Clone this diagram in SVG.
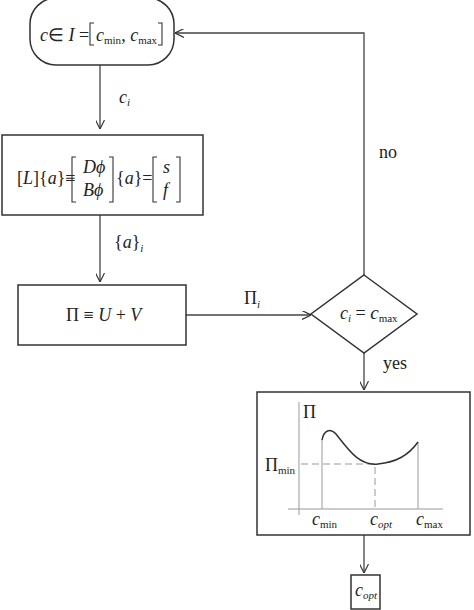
<svg xmlns="http://www.w3.org/2000/svg" width="474" height="610" viewBox="0 0 474 610">
<defs>
<marker id="arr" viewBox="0 0 10 10" refX="10" refY="5" markerWidth="9" markerHeight="9" orient="auto" markerUnits="userSpaceOnUse">
<path d="M0,0 L10,5 L0,10" fill="none" stroke="#333" stroke-width="1.3"/>
</marker>
<style>
.n{fill:#fff;stroke:#333;stroke-width:1.5}
.c{fill:none;stroke:#444;stroke-width:1.3}
.b{fill:none;stroke:#333;stroke-width:1.1}
.t{font-family:"Liberation Serif",serif;font-size:18px;fill:#222}
.i{font-style:italic}
.s{font-size:11px}
.g{fill:none;stroke:#999;stroke-width:1}
.d{fill:none;stroke:#999;stroke-width:1;stroke-dasharray:7,4}
</style>
</defs>
<rect width="474" height="610" fill="#fff"/>
<g id="connectors">
<path class="c" d="M100,65 V129" marker-end="url(#arr)"/>
<path class="c" d="M100,215 V282" marker-end="url(#arr)"/>
<path class="c" d="M186,315 H311" marker-end="url(#arr)"/>
<path class="c" d="M364,275 V33 H175" marker-end="url(#arr)"/>
<path class="c" d="M364,353 V390" marker-end="url(#arr)"/>
<path class="c" d="M364,535 V573" marker-end="url(#arr)"/>
<text class="t i" x="119" y="103">c<tspan class="s" dy="3">i</tspan></text>
<text class="t" x="114" y="248">{<tspan class="i">a</tspan>}<tspan class="s i" dy="4">i</tspan></text>
<text class="t" x="244" y="304">Π<tspan class="s i" dy="4">i</tspan></text>
<text class="t" x="379" y="158">no</text>
<text class="t" x="383" y="369">yes</text>
</g>
<g id="start">
<rect class="n" x="30" y="-2" width="144" height="67" rx="26" ry="26"/>
<text class="t" x="40" y="41"><tspan class="i">c</tspan>∈ <tspan class="i">I</tspan> =</text>
<path class="b" d="M94,23 h-4 v22 h4 M158,23 h4 v22 h-4"/>
<text class="t i" x="96" y="41" font-size="20">c<tspan class="s" font-style="normal" dy="3">min</tspan><tspan font-style="normal" font-size="18" dy="-3">, </tspan>c<tspan class="s" font-style="normal" dy="3">max</tspan></text>
</g>
<g id="system">
<rect class="n" x="2" y="135" width="201" height="80"/>
<text class="t" x="17" y="184">[<tspan class="i">L</tspan>]{<tspan class="i">a</tspan>}≡</text>
<path class="b" d="M76,157 h-4 v45 h4 M109,157 h4 v45 h-4"/>
<text class="t i" x="83" y="173">Dϕ</text>
<text class="t i" x="83" y="196">Bϕ</text>
<text class="t" x="116" y="184">{<tspan class="i">a</tspan>}=</text>
<path class="b" d="M157,157 h-4 v45 h4 M176,157 h4 v45 h-4"/>
<text class="t i" x="163" y="173">s</text>
<text class="t i" x="163" y="196">f</text>
</g>
<g id="energy">
<rect class="n" x="18" y="285" width="168" height="60"/>
<text class="t" x="66" y="321">Π ≡ <tspan class="i">U</tspan> + <tspan class="i">V</tspan></text>
</g>
<g id="decision">
<path class="n" d="M364,275 L417,314 L364,353 L311,314 Z"/>
<text class="t" x="340" y="319"><tspan class="i">c</tspan><tspan class="s i" dy="3">i</tspan><tspan dy="-3"> = </tspan><tspan class="i" font-size="19">c</tspan><tspan class="s" dy="3">max</tspan></text>
</g>
<g id="plot">
<rect class="n" x="257" y="392" width="213" height="143"/>
<path class="g" d="M299,402 V515 M288,509 H443 M322,440 V509 M418,442 V509"/>
<path class="d" d="M301,464 H375 V509"/>
<path fill="none" stroke="#333" stroke-width="1.5" d="M322,440 C324,430 330,428 336,434 C350,452 360,466 378,464 C396,462 408,456 418,442"/>
<text class="t" x="303" y="418">Π</text>
<text class="t" x="265" y="471">Π<tspan class="s" dy="3">min</tspan></text>
<text class="t i" x="312" y="525" font-size="20">c<tspan class="s" font-style="normal" dy="3">min</tspan></text>
<text class="t i" x="370" y="525" font-size="20">c<tspan class="s" dy="3">opt</tspan></text>
<text class="t i" x="416" y="525" font-size="20">c<tspan class="s" font-style="normal" dy="3">max</tspan></text>
</g>
<g id="result">
<rect class="n" x="351" y="575" width="29" height="34"/>
<text class="t i" x="355" y="596" font-size="20">c<tspan class="s" dy="3">opt</tspan></text>
</g>
</svg>
